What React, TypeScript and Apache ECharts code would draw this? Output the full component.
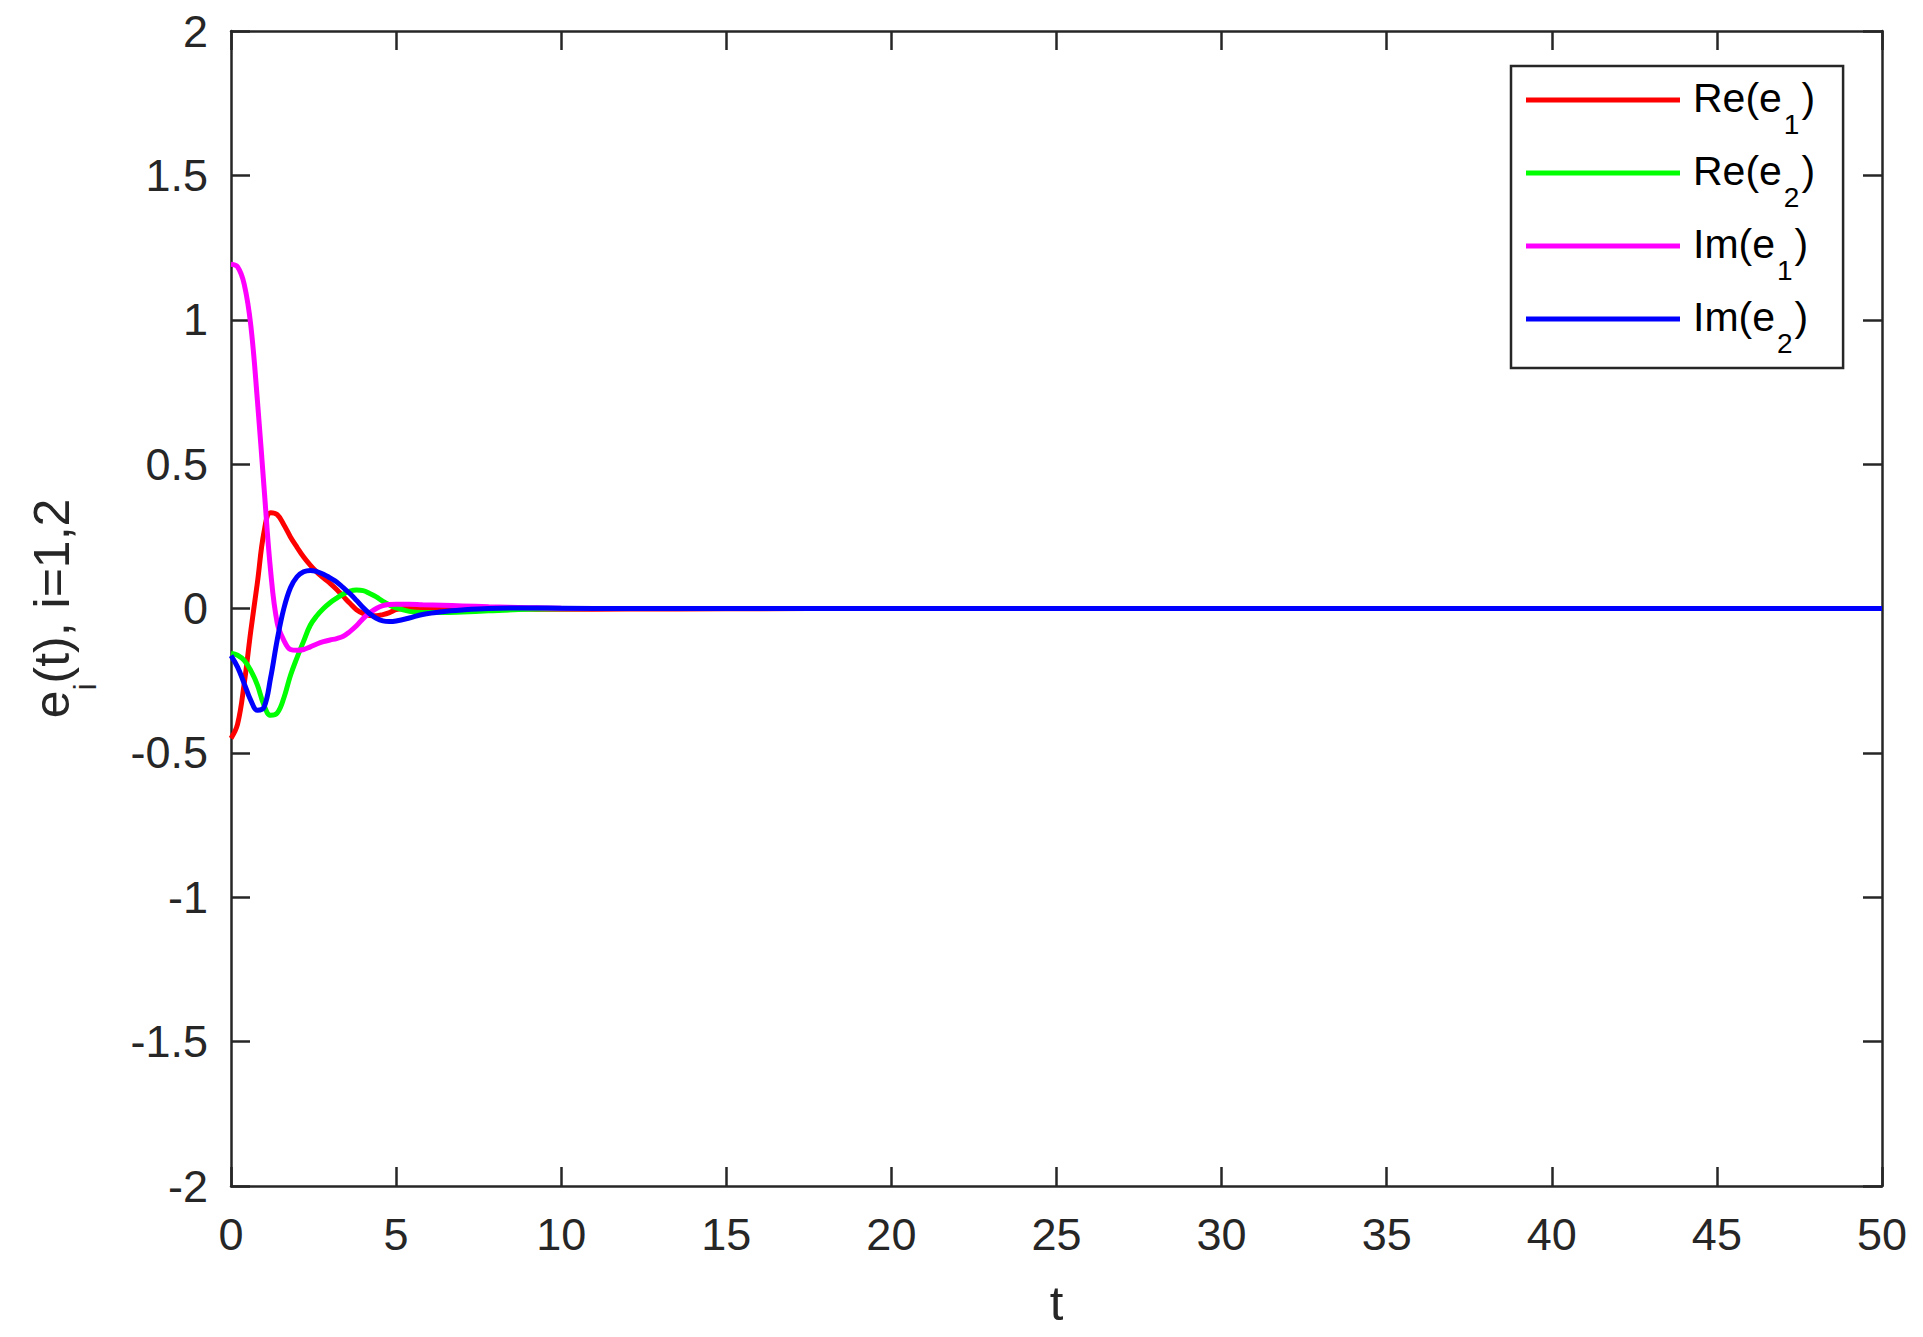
import React, { useEffect, useRef } from "react";
import * as echarts from "echarts";

const T = [0, 0.2, 0.4, 0.6, 0.8, 1.0, 1.2, 1.4, 1.6, 1.8, 2.0, 2.2, 2.4, 2.6, 2.8, 3.0, 3.2, 3.4, 3.6, 3.8, 4.0, 4.2, 4.4, 4.6, 4.8, 5.0, 5.4, 5.8, 6.4, 7.0, 7.8, 9, 10, 12, 15, 20, 25, 30, 35, 40, 45, 50];

const reE1 = [-0.45, -0.40, -0.26, -0.077, 0.09, 0.265, 0.332, 0.325, 0.29, 0.248, 0.212, 0.178, 0.15, 0.126, 0.106, 0.087, 0.066, 0.042, 0.018, -0.004, -0.017, -0.024, -0.025, -0.021, -0.014, -0.004, 0.002, 0.003, 0.002, 0.001, 0, -0.002, -0.003, -0.002, -0.001, 0, 0, 0, 0, 0, 0, 0];
const reE2 = [-0.155, -0.162, -0.18, -0.215, -0.265, -0.335, -0.37, -0.362, -0.31, -0.232, -0.17, -0.113, -0.058, -0.025, 0.0, 0.02, 0.036, 0.05, 0.06, 0.064, 0.062, 0.052, 0.04, 0.025, 0.012, 0.002, -0.01, -0.014, -0.014, -0.012, -0.008, -0.003, -0.001, 0, 0, 0, 0, 0, 0, 0, 0, 0];
const imE1 = [1.192, 1.183, 1.123, 0.98, 0.72, 0.42, 0.13, -0.05, -0.11, -0.142, -0.145, -0.142, -0.133, -0.123, -0.115, -0.109, -0.104, -0.096, -0.08, -0.06, -0.035, -0.015, 0.0, 0.01, 0.014, 0.015, 0.015, 0.013, 0.011, 0.009, 0.006, 0.003, 0.001, 0, 0, 0, 0, 0, 0, 0, 0, 0];
const imE2 = [-0.163, -0.203, -0.26, -0.318, -0.352, -0.342, -0.24, -0.108, 0.0, 0.072, 0.11, 0.127, 0.132, 0.128, 0.119, 0.106, 0.092, 0.072, 0.052, 0.028, 0.003, -0.018, -0.034, -0.043, -0.045, -0.043, -0.033, -0.021, -0.011, -0.005, 0.0, 0.002, 0.001, 0, 0, 0, 0, 0, 0, 0, 0, 0];

const seriesNames = ["Re(e1)", "Re(e2)", "Im(e1)", "Im(e2)"];
const legendLabels = ["{m|Re(e}{s|1}{m|)}", "{m|Re(e}{s|2}{m|)}", "{m|Im(e}{s|1}{m|)}", "{m|Im(e}{s|2}{m|)}"];
const seriesValues = [reE1, reE2, imE1, imE2];
const seriesColors = ["#ff0000", "#00ff00", "#ff00ff", "#0000ff"];

const xTicks = { min: 0, max: 50, interval: 5 };
const yTicks = { min: -2, max: 2, interval: 0.5 };

const FONT = "'Liberation Sans', Arial, Helvetica, sans-serif";
const AX = "#262626";

export default function App() {
  const ref = useRef<HTMLDivElement>(null);
  useEffect(() => {
    if (!ref.current) return;
    const chart = echarts.init(ref.current, null, { renderer: "svg" });
    const axisCommon = {
      type: "value" as const,
      axisLine: { show: true, onZero: false, lineStyle: { color: AX, width: 2.5 } },
      axisTick: { show: true, inside: true, length: 19, lineStyle: { color: AX, width: 2.5 } },
      splitLine: { show: false },
    };
    chart.setOption({
      animation: false,
      backgroundColor: "#ffffff",
      grid: { left: 231, right: 41, top: 31, bottom: 151, outerBoundsMode: "none", containLabel: false },
      xAxis: [
        {
          ...axisCommon,
          ...xTicks,
          position: "bottom",
          axisLabel: { show: true, margin: 26, fontSize: 45, color: AX, fontFamily: FONT },
          name: "t",
          nameLocation: "middle",
          nameGap: 92,
          nameTextStyle: { fontSize: 49, color: AX, fontFamily: FONT },
        },
        {
          ...axisCommon,
          ...xTicks,
          position: "top",
          axisLabel: { show: false },
        },
      ],
      yAxis: [
        {
          ...axisCommon,
          ...yTicks,
          position: "left",
          axisLabel: { show: true, margin: 23, fontSize: 45, color: AX, fontFamily: FONT },
          name: "{m|e}{s|i}{m|(t), i=1,2}",
          nameLocation: "middle",
          nameGap: 148,
          nameTextStyle: {
            color: AX,
            fontFamily: FONT,
            fontSize: 50,
            rich: {
              m: { fontSize: 50, lineHeight: 56, verticalAlign: "top", color: AX, fontFamily: FONT },
              s: { fontSize: 32, lineHeight: 34, padding: [42, 0, 0, 0], verticalAlign: "top", color: AX, fontFamily: FONT },
            },
          },
        },
        {
          ...axisCommon,
          ...yTicks,
          position: "right",
          axisLabel: { show: false },
        },
      ],
      legend: {
        orient: "vertical",
        left: 1511,
        top: 66,
        icon: "rect",
        itemWidth: 154,
        itemHeight: 5,
        itemGap: 12,
        padding: [11, 28, 11, 15],
        borderColor: AX,
        borderWidth: 2.5,
        backgroundColor: "#ffffff",
        data: seriesNames,
        formatter: (name: string) => legendLabels[seriesNames.indexOf(name)],
        textStyle: {
          color: "#000000",
          fontFamily: FONT,
          fontSize: 41,
          padding: [0, 0, 0, 8],
          rich: {
            m: { fontSize: 41, lineHeight: 46, verticalAlign: "top", color: "#000000", fontFamily: FONT },
            s: { fontSize: 28, lineHeight: 28, padding: [33, 2, 0, 2], verticalAlign: "top", color: "#000000", fontFamily: FONT },
          },
        },
      },
      series: seriesNames.map((name, k) => ({
        name,
        type: "line",
        xAxisIndex: 0,
        yAxisIndex: 0,
        data: T.map((t, i) => [t, seriesValues[k][i]]),
        showSymbol: false,
        symbol: "none",
        smooth: 0.4,
        color: seriesColors[k],
        itemStyle: { color: seriesColors[k] },
        lineStyle: { color: seriesColors[k], width: 5 },
        z: 2 + k,
      })),
    });
    return () => chart.dispose();
  }, []);
  return <div ref={ref} style={{ position: "absolute", left: 0, top: 0, width: 1923, height: 1337 }} />;
}
